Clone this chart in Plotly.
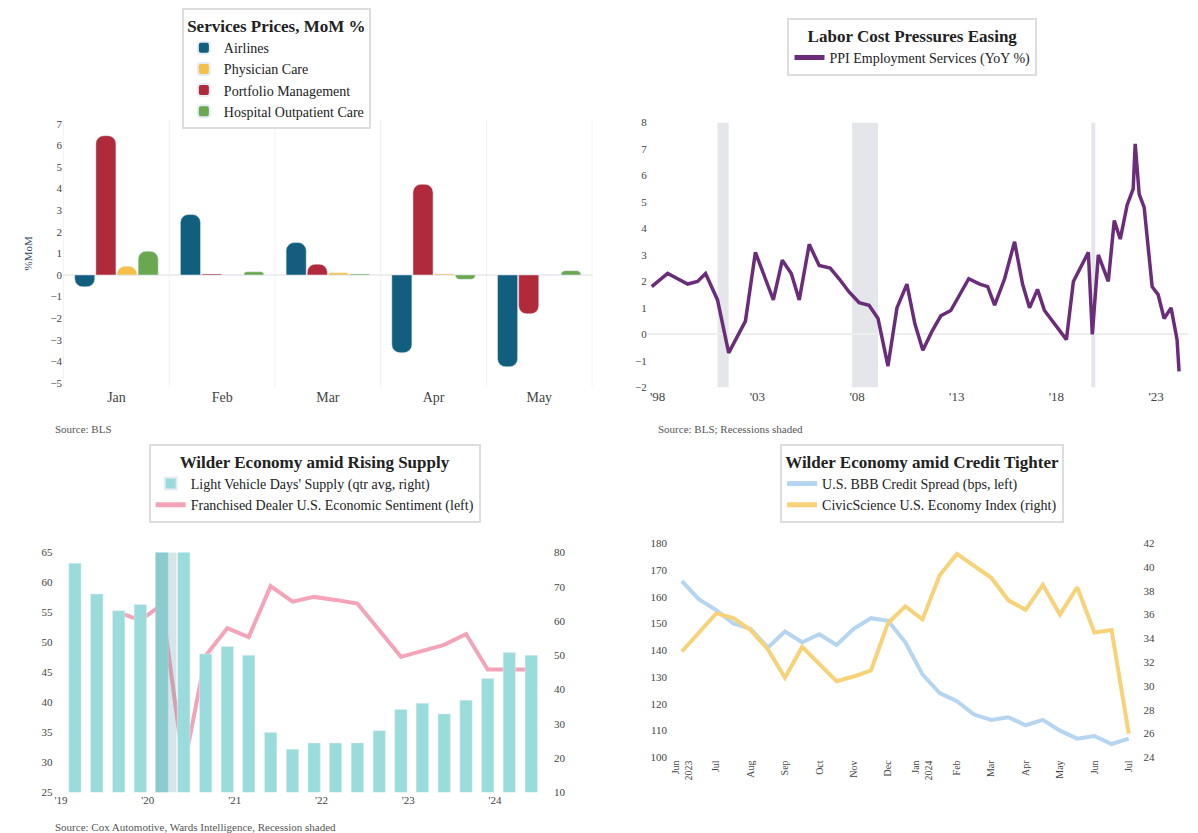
import plotly.graph_objects as go
import pandas as pd

FONT = "Liberation Serif"

# ---- Top-left data ----
months = ["Jan", "Feb", "Mar", "Apr", "May"]
airlines = [-0.55, 2.8, 1.5, -3.6, -4.25]
portfolio = [6.45, 0.05, 0.5, 4.2, -1.8]
physician = [0.4, 0.0, 0.1, 0.05, 0.0]
hospital = [1.1, 0.15, 0.05, -0.2, 0.2]

# ---- Top-right data ----
ppi_years = [1997.7, 1998.0, 1998.5, 1999.0, 1999.5, 2000.0, 2000.4, 2001.0, 2001.56, 2002.4, 2002.9,
             2003.4, 2003.8, 2004.25, 2004.7, 2005.1, 2005.6, 2006.1, 2006.65, 2007.1, 2007.6,
             2008.1, 2008.6, 2009.05, 2009.55, 2010.0, 2010.5, 2010.9, 2011.3, 2011.75, 2012.2,
             2012.7, 2013.2, 2013.6, 2014.15, 2014.55, 2014.9, 2015.4, 2015.9, 2016.3, 2016.65,
             2017.05, 2017.4, 2017.8, 2018.2, 2018.5, 2018.85, 2019.25, 2019.6, 2019.8, 2020.1,
             2020.6, 2020.9, 2021.2, 2021.55, 2021.85, 2021.95, 2022.15, 2022.4, 2022.8, 2023.1,
             2023.4, 2023.75, 2024.05, 2024.15]
ppi_vals = [1.8, 2.0, 2.3, 2.1, 1.9, 2.0, 2.3, 1.3, -0.7, 0.5, 3.1,
            2.1, 1.3, 2.8, 2.3, 1.3, 3.4, 2.6, 2.5, 2.1, 1.6,
            1.2, 1.1, 0.6, -1.2, 1.0, 1.9, 0.4, -0.6, 0.1, 0.7,
            0.9, 1.6, 2.1, 1.9, 1.8, 1.1, 2.1, 3.5, 1.9, 1.0,
            1.7, 0.9, 0.5, 0.1, -0.2, 2.0, 2.6, 3.1, 0.0, 3.0,
            2.0, 4.3, 3.6, 4.9, 5.5, 7.2, 5.3, 4.8, 1.8, 1.5,
            0.6, 1.0, -0.2, -1.4]
recessions = [(2001.0, 2001.56), (2007.75, 2009.05), (2019.75, 2019.95)]
ppi_ticks = [1998, 2003, 2008, 2013, 2018, 2023]
ppi_ticktext = ["'98", "'03", "'08", "'13", "'18", "'23"]

# ---- Bottom-left data ----
quarters = pd.date_range("2019-02-15", periods=22, freq="3MS")
supply = [76.9, 67.9, 63.0, 64.8, 85.0, 85.0, 50.4, 52.6, 50.0, 27.5, 22.6,
          24.4, 24.4, 24.4, 28.0, 34.2, 36.0, 32.9, 36.9, 43.2, 50.8, 50.0]
sentiment = [None, None, 55.0, 53.7, 56.3, 29.1, 47.8, 52.4, 50.9, 59.4, 56.8,
             57.6, 57.1, 56.5, None, 47.6, 48.6, 49.6, 51.4, 45.5, 45.5, 45.5]
bl_ticks = pd.to_datetime(["2019-01-01", "2020-01-01", "2021-01-01", "2022-01-01", "2023-01-01", "2024-01-01"])
bl_ticktext = ["'19", "'20", "'21", "'22", "'23", "'24"]

# ---- Bottom-right data ----
spread = [165.8, 159, 155, 150, 148, 141, 147, 143, 146, 142, 148, 152, 151, 143,
          131, 124, 121, 116, 114, 115, 112, 114, 110, 107, 108, 105, 107]
civic = [32.9, 34.5, 36.1, 35.7, 34.7, 33.1, 30.7, 33.3, 31.9, 30.4, 30.8, 31.3, 35.3,
         36.7, 35.6, 39.3, 41.1, 40.1, 39.1, 37.2, 36.4, 38.5, 36.0, 38.3, 34.5, 34.7, 26.0]
br_ticktext = ["Jun<br>2023", "Jul", "Aug", "Sep", "Oct", "Nov", "Dec", "Jan<br>2024",
               "Feb", "Mar", "Apr", "May", "Jun", "Jul"]

fig = go.Figure()

tl = [("Airlines", airlines, "#115e7e", 1), ("Portfolio Management", portfolio, "#b02a3c", 3),
      ("Physician Care", physician, "#f5c04a", 2), ("Hospital Outpatient Care", hospital, "#6aa84f", 4)]
for name, vals, col, rank in tl:
    fig.add_trace(go.Bar(x=months, y=vals, name=name, marker=dict(color=col, cornerradius=8),
                         xaxis="x", yaxis="y", legend="legend", legendrank=rank))

fig.add_trace(go.Scatter(x=ppi_years, y=ppi_vals, mode="lines", name="PPI Employment Services (YoY %)",
                         line=dict(color="#6b2d7b", width=3.5), xaxis="x2", yaxis="y2", legend="legend2"))

fig.add_trace(go.Bar(x=quarters, y=supply, name="Light Vehicle Days' Supply (qtr avg, right)",
                     marker=dict(color="#9adcdc"), width=1000*3600*24*52, xaxis="x3", yaxis="y4",
                     legend="legend3"))
fig.add_trace(go.Scatter(x=quarters, y=sentiment, mode="lines", connectgaps=True,
                         name="Franchised Dealer U.S. Economic Sentiment (left)",
                         line=dict(color="#f4a3b9", width=4), xaxis="x3", yaxis="y3", legend="legend3"))

idx = list(range(len(spread)))
fig.add_trace(go.Scatter(x=idx, y=spread, mode="lines", name="U.S. BBB Credit Spread (bps, left)",
                         line=dict(color="#b5d5f0", width=4), xaxis="x4", yaxis="y5", legend="legend4"))
fig.add_trace(go.Scatter(x=idx, y=civic, mode="lines", name="CivicScience U.S. Economy Index (right)",
                         line=dict(color="#f8d278", width=4), xaxis="x4", yaxis="y6", legend="legend4"))

shapes = []
for a, b in recessions:
    shapes.append(dict(type="rect", xref="x2", yref="y2 domain", x0=a, x1=b, y0=0, y1=1,
                       fillcolor="#e4e6ea", line_width=0, layer="below"))
shapes.append(dict(type="rect", xref="x3", yref="y3 domain", x0="2020-02-01", x1="2020-05-01", y0=0, y1=1,
                   fillcolor="rgba(90,150,160,0.25)", line_width=0, layer="above"))

tick = dict(family=FONT, size=11, color="#444")
ax = dict(showline=False, ticks="", tickfont=tick, zeroline=False)
legbox = dict(bgcolor="white", bordercolor="#ddd", borderwidth=2, font=dict(family=FONT, size=14, color="#222"),
              xanchor="center", yanchor="top", itemsizing="constant",
              title=dict(font=dict(family=FONT, size=14, color="#222")))

fig.update_layout(
    width=1198, height=833, margin=dict(l=0, r=0, t=0, b=0),
    paper_bgcolor="white", plot_bgcolor="white", barmode="group", bargap=0.2, bargroupgap=0.05,
    font=dict(family=FONT),
    xaxis=dict(ax, domain=[0.046, 0.488], anchor="y", showgrid=False, tickfont=dict(family=FONT, size=14, color="#444")),
    yaxis=dict(ax, domain=[0.577, 0.922], anchor="x", range=[-5.2, 7.2], dtick=1, showgrid=False,
               zeroline=True, zerolinecolor="#eee", title=dict(text="%MoM", font=dict(family=FONT, size=11))),
    xaxis2=dict(ax, domain=[0.534, 0.985], anchor="y2", range=[1997.5, 2024.6], tickvals=ppi_ticks,
                ticktext=ppi_ticktext, showgrid=False, tickfont=dict(family=FONT, size=13, color="#444")),
    yaxis2=dict(ax, domain=[0.577, 0.918], anchor="x2", range=[-2, 8], dtick=1, showgrid=False,
                zeroline=True, zerolinecolor="#eee"),
    xaxis3=dict(ax, domain=[0.038, 0.455], anchor="y3", range=["2018-12-01", "2024-09-01"],
                tickvals=bl_ticks, ticktext=bl_ticktext, showgrid=False),
    yaxis3=dict(ax, domain=[0.055, 0.364], anchor="x3", range=[25, 65], dtick=5, showgrid=False),
    yaxis4=dict(ax, overlaying="y3", side="right", anchor="x3", range=[10, 80], dtick=10, showgrid=False),
    xaxis4=dict(ax, domain=[0.551, 0.947], anchor="y5", range=[-0.8, 26.8], tickvals=list(range(0, 27, 2)),
                ticktext=br_ticktext, tickangle=-90, showgrid=False, tickfont=dict(family=FONT, size=10, color="#444")),
    yaxis5=dict(ax, domain=[0.10, 0.376], anchor="x4", range=[100, 180], dtick=10, showgrid=False),
    yaxis6=dict(ax, overlaying="y5", side="right", anchor="x4", range=[24, 42], dtick=2, showgrid=False),
    legend=dict(legbox, x=0.224, y=1.066, title=dict(text="<b>Services Prices, MoM %</b>", side="top center"),
                traceorder="normal"),
    legend2=dict(legbox, x=0.755, y=1.053, title=dict(text="<b>Labor Cost Pressures Easing</b>", side="top center")),
    legend3=dict(legbox, x=0.256, y=0.504, title=dict(text="<b>Wilder Economy amid Rising Supply</b>", side="top center")),
    legend4=dict(legbox, x=0.763, y=0.504, title=dict(text="<b>Wilder Economy amid Credit Tighter</b>", side="top center")),
    shapes=shapes,
    annotations=[
        dict(text="Source: BLS", x=45/1198, y=1-397/833, xref="paper", yref="paper", showarrow=False,
             xanchor="left", font=dict(family=FONT, size=11, color="#555")),
        dict(text="Source: BLS; Recessions shaded", x=648/1198, y=1-397/833, xref="paper", yref="paper",
             showarrow=False, xanchor="left", font=dict(family=FONT, size=11, color="#555")),
        dict(text="Source: Cox Automotive, Wards Intelligence, Recession shaded", x=45/1198, y=1-824/833,
             xref="paper", yref="paper", showarrow=False, xanchor="left", yanchor="middle",
             font=dict(family=FONT, size=11, color="#555")),
    ],
)
for i in range(6):
    fig.add_shape(type="line", xref="x", yref="y domain", x0=i-0.5, x1=i-0.5, y0=0, y1=1,
                  line=dict(color="#f0f0f0", width=1), layer="below")

fig.write_html("out.html")
